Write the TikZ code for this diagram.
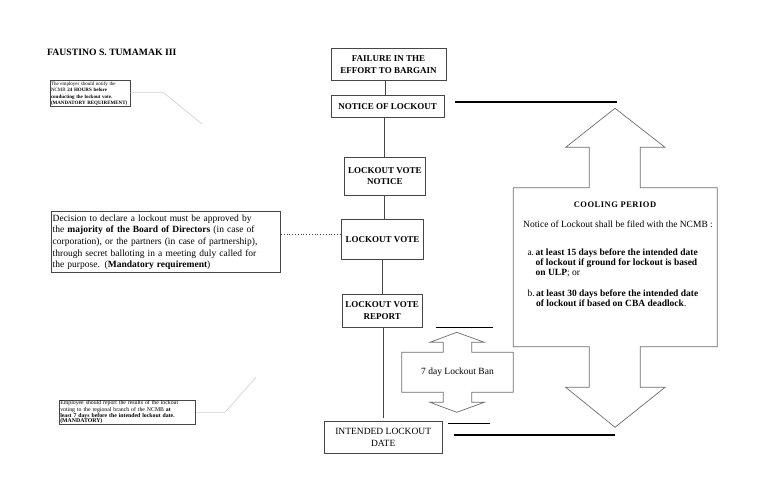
\documentclass[tikz,border=0pt]{standalone}
\usepackage{fontspec}
\setmainfont{Liberation Serif}
\usepackage{tikz}
\usetikzlibrary{calc,positioning}
\definecolor{boxgray}{RGB}{70,70,70}
\definecolor{arrowgray}{RGB}{110,110,110}
\definecolor{leadgray}{RGB}{205,205,205}

\begin{document}
\begin{tikzpicture}[
    x=1pt, y=-1pt,
    flow-box/.style={rectangle, draw=boxgray, line width=0.9pt, inner sep=0pt, align=center, font=\fontsize{9}{11.7}\selectfont\bfseries},
    note-box/.style={rectangle, draw=boxgray, line width=0.7pt, inner xsep=1pt, inner ysep=0pt, align=left},
    cool-text/.style={inner sep=0pt, align=left, font=\fontsize{9.5}{10}\selectfont},
    flow-line/.style={draw=boxgray, line width=0.9pt},
    rule-line/.style={draw=black, line width=0.8pt},
    thick-rule/.style={draw=black, line width=1.8pt},
    lead-line/.style={draw=leadgray, line width=0.6pt},
    ban-shape/.style={draw=arrowgray, line width=0.7pt}
]
\useasboundingbox[fill=white] (0,0) rectangle (768,503);

% Title
\node[anchor=west, inner sep=0pt, font=\fontsize{9.7}{11}\selectfont\bfseries] (title) at (47,52) {FAUSTINO S. TUMAMAK III};

% Flow boxes
\node[flow-box, minimum width=115pt, minimum height=32.4pt] (failure) at (388.5,64.5) {FAILURE IN THE\\EFFORT TO BARGAIN};
\node[flow-box, minimum width=113.3pt, minimum height=22pt] (notice) at (387.7,106.7) {NOTICE OF LOCKOUT};
\node[flow-box, minimum width=81pt, minimum height=37.7pt] (votenotice) at (384.8,176.2) {LOCKOUT VOTE\\NOTICE};
\node[flow-box, minimum width=81.6pt, minimum height=39.7pt] (vote) at (382.5,239.2) {LOCKOUT VOTE};
\node[flow-box, minimum width=79.7pt, minimum height=33.3pt] (report) at (382.2,310.7) {LOCKOUT VOTE\\REPORT};
\node[flow-box, minimum width=118.3pt, minimum height=32.3pt, font=\fontsize{9.5}{11.7}\selectfont] (intended) at (383.2,437.2) {INTENDED LOCKOUT\\DATE};

% Flow connectors
\draw[flow-line] (notice.north -| 385.7,0) -- (failure.south -| 385.7,0);
\draw[flow-line] (votenotice.north) -- (votenotice.north |- notice.south);
\draw[flow-line] (vote.north -| votenotice.north) -- (votenotice.south);
\draw[flow-line] (report.north) -- (report.north |- vote.south);
\coordinate (reportend) at (383.3,418);
\draw[flow-line] (report.south -| reportend) -- (reportend);

% Side notes
\node[note-box, text width=78pt, minimum height=26pt, font=\fontsize{5}{6.3}\selectfont] (employer) at (90,93.7) {The employer should notify the\\NCMB \textbf{24 HOURS before}\\\textbf{conducting the lockout vote.}\\\textbf{(MANDATORY REQUIREMENT)}};
\node[note-box, text width=227pt, minimum height=61pt, font=\fontsize{9.5}{11.7}\selectfont] (decision) at (166.2,242.2) {Decision to declare a lockout must be approved by\\the \textbf{majority of the Board of Directors} (in case of\\corporation), or the partners (in case of partnership),\\through secret balloting in a meeting duly called for\\the purpose. (\textbf{Mandatory requirement})};
\node[note-box, text width=134.4pt, minimum height=20.7pt, font=\fontsize{5.8}{5.3}\selectfont] (results) at (127.5,412.3) {Employee should report the results of the lockout\\voting to the regional branch of the NCMB \textbf{at}\\\textbf{least 7 days before the intended lockout date.}\\\textbf{(MANDATORY)}};

% Lead lines
\coordinate (employerbend) at (163,92.3);
\coordinate (employerend) at (202,124);
\draw[lead-line] (employer.east |- employerbend) -- (employerbend) -- (employerend);
\coordinate (resultsbend) at (225,412.3);
\coordinate (resultsend) at (256,377.3);
\draw[lead-line] (results.east |- resultsbend) -- (resultsbend) -- (resultsend);
\draw[draw=boxgray, line width=0.8pt, dotted] (decision.east |- 0,234.3) -- (vote.west |- 0,234.3);

% Cooling period arrow
\draw[ban-shape] (615,108.3) -- (665,147.3) -- (640.3,147.3) -- (640.3,187.7) -- (717.3,187.7) -- (717.3,346.7) -- (640.3,346.7) -- (640.3,387.3) -- (665,387.3) -- (615,427.3) -- (565.7,387.3) -- (589.3,387.3) -- (589.3,346.7) -- (513.3,346.7) -- (513.3,187.7) -- (589.3,187.7) -- (589.3,147.3) -- (565.7,147.3) -- cycle;
\node[anchor=base, inner sep=0pt, font=\fontsize{8.5}{10}\selectfont\bfseries\addfontfeature{LetterSpace=6}] (cooltitle) at (615,207.7) {COOLING PERIOD};
\node[cool-text, anchor=base] (coolnote) at (618,227) {Notice of Lockout shall be filed with the NCMB :};
\node[cool-text, anchor=base west] (coola) at (527.3,255) {\begin{tabular}[t]{@{}l@{\,}l@{}}
a. & \textbf{at least 15 days before the intended date}\\
   & \textbf{of lockout if ground for lockout is based}\\
   & \textbf{on ULP}; or
\end{tabular}};
\node[cool-text, anchor=base west] (coolb) at (527.3,296.7) {\begin{tabular}[t]{@{}l@{\,}l@{}}
b. & \textbf{at least 30 days before the intended date}\\
   & \textbf{of lockout if based on CBA deadlock}.
\end{tabular}};

% Lockout ban arrow
\draw[ban-shape] (456.7,332.3) -- (484.3,342.3) -- (471.7,342.3) -- (471.7,352.3) -- (513.3,352.3) -- (513.3,392.3) -- (471.7,392.3) -- (471.7,402.3) -- (484.3,402.3) -- (456.7,412.3) -- (430,402.3) -- (443.3,402.3) -- (443.3,392.3) -- (401.7,392.3) -- (401.7,352.3) -- (443.3,352.3) -- (443.3,342.3) -- (430,342.3) -- cycle;
\node[inner sep=0pt, font=\fontsize{9.5}{11}\selectfont] (ban) at (457.5,372.3) {7 day Lockout Ban};

% Period rules
\coordinate (noticerule) at (616.7,102);
\draw[thick-rule] (455,102) -- (noticerule);
\coordinate (banstart) at (436,327.3);
\coordinate (banstop) at (493.3,327.3);
\draw[rule-line] (banstart) -- (banstop);
\coordinate (banendstart) at (448.3,423.3);
\coordinate (banendstop) at (490,423.3);
\draw[rule-line] (banendstart) -- (banendstop);
\coordinate (daterule) at (615,435);
\draw[thick-rule] (454,435) -- (daterule);

\end{tikzpicture}
\end{document}
